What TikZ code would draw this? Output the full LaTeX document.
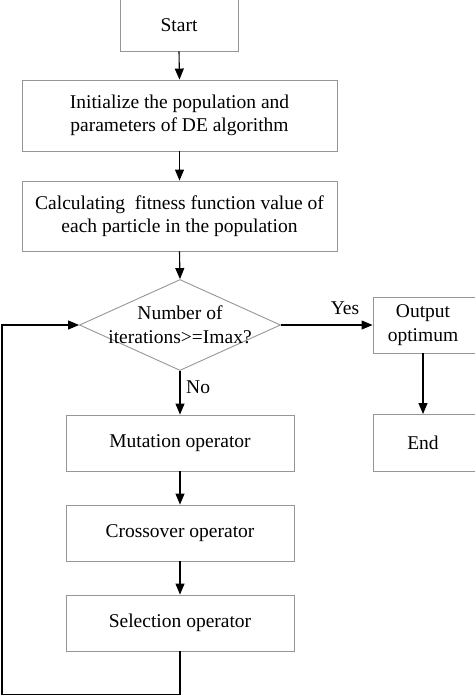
\documentclass[tikz,border=0pt]{standalone}
\usepackage{fontspec}
\setmainfont{Liberation Serif}
\usetikzlibrary{shapes.geometric,arrows.meta}
\definecolor{boxgray}{RGB}{150,150,150}
\tikzset{
  box/.style={draw=boxgray, line width=0.9pt, rectangle, inner sep=0pt, align=center,
    font=\fontsize{19.5}{23.5}\selectfont},
  lbl/.style={inner sep=0pt, font=\fontsize{19.5}{23.5}\selectfont},
  arr/.style={draw=black, line width=1.1pt, -{Triangle[length=11pt,width=9pt]}},
}
\begin{document}
\begin{tikzpicture}[x=1pt,y=-1pt]
\useasboundingbox (0,0) rectangle (474,696);
\node[box, minimum width=118pt, minimum height=58pt] (start) at (179,22) {};
\node[lbl] (starttext) at (179,25.5) {Start};
\node[box, minimum width=315pt, minimum height=71pt] (init) at (179.5,115.5) {Initialize the population and\\parameters of DE algorithm};
\node[box, minimum width=315pt, minimum height=70pt] (calc) at (179.5,216) {Calculating\ \ fitness function value of\\each particle in the population};
\node[draw=boxgray, line width=0.9pt, diamond, minimum width=201pt, minimum height=91pt, inner sep=0pt] (dec) at (180,325) {};
\node[lbl, align=center] (dectext) at (180,325) {Number of\\iterations>=Imax?};
\node[box, minimum width=140pt, minimum height=56pt] (out) at (443,325) {\hspace*{-40pt}Output\\\hspace*{-40pt}optimum};
\node[box, minimum width=140pt, minimum height=57pt] (end) at (443,442.5) {\hspace*{-40pt}End};
\node[box, minimum width=228pt, minimum height=56pt] (mut) at (180,443) {Mutation operator};
\node[box, minimum width=228pt, minimum height=56pt] (cro) at (180,533) {Crossover operator};
\node[box, minimum width=228pt, minimum height=56pt] (sel) at (180,623) {Selection operator};
\node[lbl] (yes) at (345,308) {Yes};
\node[lbl, anchor=west] (no) at (186,387) {No};
\coordinate (outbot) at (423,353);
\coordinate (endtop) at (423,414);
\coordinate (c1) at (180,694.5);
\coordinate (c2) at (2,694.5);
\coordinate (c3) at (2,325);
\draw[arr] (start.south) -- (init.north);
\draw[arr] (init.south) -- (calc.north);
\draw[arr] (calc.south) -- (dec.north);
\draw[arr] (dec.south) -- (mut.north);
\draw[arr] (mut.south) -- (cro.north);
\draw[arr] (cro.south) -- (sel.north);
\draw[arr] (dec.east) -- (out.west);
\draw[arr] (outbot) -- (endtop);
\draw[arr] (sel.south) -- (c1) -- (c2) -- (c3) -- (dec.west);
\end{tikzpicture}
\end{document}
